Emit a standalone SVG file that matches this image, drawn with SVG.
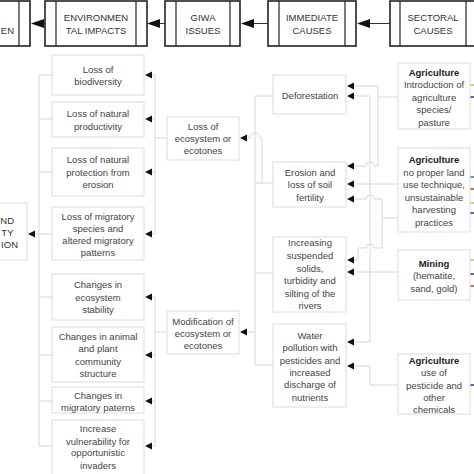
<svg xmlns="http://www.w3.org/2000/svg" width="474" height="474" viewBox="0 0 474 474">
<style>
.hb{fill:#fff;stroke:#222;stroke-width:1.6}
.hl{stroke:#222;stroke-width:1.2}
.b{fill:#fff;stroke:#dcdcdc;stroke-width:1}
.c{fill:none;stroke:#d6d6d6;stroke-width:1}
.hc{fill:none;stroke:#333;stroke-width:1.2}
.t{font-family:"Liberation Sans",Arial,sans-serif;font-size:9.5px;fill:#444;text-anchor:middle}
.h{font-family:"Liberation Sans",Arial,sans-serif;font-size:9.5px;fill:#333;text-anchor:middle}
.bd{font-weight:bold;fill:#222}
.a{fill:#111}
</style>
<defs>
<path id="sa" d="M0,0 L7,-3.5 L7,3.5 Z"/>
<path id="la" d="M0,0 L13,-4.5 L13,4.5 Z"/>
</defs>
<rect width="474" height="474" fill="#fff"/>

<g id="connectors">
  <!-- header -->
  <path class="hc" d="M44,23.5 H45 M160,23.5 H165 M254,23.5 H268 M370,23.5 H390"/>
  <use href="#la" x="31" y="23.5" class="a"/>
  <use href="#la" x="147" y="23.5" class="a"/>
  <use href="#la" x="241" y="23.5" class="a"/>
  <use href="#la" x="357" y="23.5" class="a"/>
  <!-- column 1 left bus -->
  <path class="c" d="M39,75 V446 M39,75 H52 M39,119 H52 M39,172 H52 M39,234 H52 M39,297 H52 M39,355 H52 M39,401 H52 M39,446 H52 M35,234 H39"/>
  <use href="#sa" x="28" y="234" class="a"/>
  <!-- column 1 right buses -->
  <path class="c" d="M155,75 V234 M152,75 H155 M152,119 H155 M152,172 H155 M152,234 H155 M155,138 H167 M155,297 V446 M152,297 H155 M152,355 H155 M152,401 H155 M152,446 H155 M155,332 H167"/>
  <use href="#sa" x="145" y="75" class="a"/>
  <use href="#sa" x="145" y="119" class="a"/>
  <use href="#sa" x="145" y="172" class="a"/>
  <use href="#sa" x="145" y="234" class="a"/>
  <use href="#sa" x="145" y="297" class="a"/>
  <use href="#sa" x="145" y="355" class="a"/>
  <use href="#sa" x="145" y="401" class="a"/>
  <use href="#sa" x="145" y="446" class="a"/>
  <!-- column 2 to column 3 -->
  <path class="c" d="M255,96 V365 M255,96 H273 M255,183 H273 M255,273 H273 M255,365 H273 M247,332 H255 M247,138 H250 A5,5 0 0 1 260,138 H262 V183"/>
  <use href="#sa" x="240" y="138" class="a"/>
  <use href="#sa" x="240" y="332" class="a"/>
  <!-- column 3 to column 4 -->
  <path class="c" d="M354,86 H378 V166 H374 A4,4 0 0 0 366,166 H354 M378,97 H398"/>
  <path class="c" d="M354,96 H370 V342 H354"/>
  <path class="c" d="M354,184 H398"/>
  <path class="c" d="M354,199 H366 A4,4 0 0 1 374,199 H382 V248 H374 A4,4 0 0 0 366,248 H358 V260 H354 M382,218 H398"/>
  <path class="c" d="M354,272 H398"/>
  <path class="c" d="M354,366 H370 V385 H398"/>
  <use href="#sa" x="347" y="86" class="a"/>
  <use href="#sa" x="347" y="96" class="a"/>
  <use href="#sa" x="347" y="166" class="a"/>
  <use href="#sa" x="347" y="184" class="a"/>
  <use href="#sa" x="347" y="199" class="a"/>
  <use href="#sa" x="347" y="260" class="a"/>
  <use href="#sa" x="347" y="272" class="a"/>
  <use href="#sa" x="347" y="342" class="a"/>
  <use href="#sa" x="347" y="366" class="a"/>
  <!-- coloured marks at right edge -->
  <g stroke-width="1.6">
    <path stroke="#e2b93b" d="M470,85 H474 M470,203 H474 M470,260 H474"/>
    <path stroke="#2b3a8a" d="M470,97 H474 M470,213 H474 M470,274 H474 M470,385 H474"/>
    <path stroke="#2f8f7f" d="M470,177 H474"/>
    <path stroke="#c83a3a" d="M470,189 H474 M470,286 H474"/>
  </g>
</g>

<!-- header nodes -->
<g id="h-concern">
  <rect class="hb" x="-60" y="1" width="90" height="45"/>
  <line class="hl" x1="19" y1="1" x2="19" y2="46"/>
  <text class="h" x="14" y="33.5" style="text-anchor:end">EN</text>
</g>
<g id="h-env">
  <rect class="hb" x="45" y="1" width="102" height="45"/>
  <line class="hl" x1="56" y1="1" x2="56" y2="46"/>
  <line class="hl" x1="136" y1="1" x2="136" y2="46"/>
  <text class="h" x="96" y="20.5">ENVIRONMEN</text>
  <text class="h" x="96" y="33.5">TAL IMPACTS</text>
</g>
<g id="h-giwa">
  <rect class="hb" x="165" y="1" width="75" height="45"/>
  <line class="hl" x1="176" y1="1" x2="176" y2="46"/>
  <line class="hl" x1="230" y1="1" x2="230" y2="46"/>
  <text class="h" x="203" y="20.5">GIWA</text>
  <text class="h" x="203" y="33.5">ISSUES</text>
</g>
<g id="h-immediate">
  <rect class="hb" x="268" y="1" width="88" height="45"/>
  <line class="hl" x1="279" y1="1" x2="279" y2="46"/>
  <line class="hl" x1="345" y1="1" x2="345" y2="46"/>
  <text class="h" x="312" y="20.5">IMMEDIATE</text>
  <text class="h" x="312" y="33.5">CAUSES</text>
</g>
<g id="h-sectoral">
  <rect class="hb" x="390" y="1" width="90" height="45"/>
  <line class="hl" x1="400" y1="1" x2="400" y2="46"/>
  <line class="hl" x1="466" y1="1" x2="466" y2="46"/>
  <text class="h" x="433" y="20.5">SECTORAL</text>
  <text class="h" x="433" y="33.5">CAUSES</text>
</g>

<!-- concern node (left, cut off) -->
<g id="n-concern">
  <rect class="b" x="-60" y="203" width="87" height="57"/>
  <text class="h" x="14" y="223.5" style="text-anchor:end">ND</text>
  <text class="h" x="13.5" y="235.5" style="text-anchor:end">TY</text>
  <text class="h" x="18" y="248" style="text-anchor:end">ION</text>
</g>

<!-- column 1: environmental impacts -->
<g id="i-biodiversity">
  <rect class="b" x="52" y="55" width="92" height="40"/>
  <text class="t" x="98" y="72.5">Loss of</text>
  <text class="t" x="98" y="84.5">biodiversity</text>
</g>
<g id="i-productivity">
  <rect class="b" x="52" y="102" width="92" height="35"/>
  <text class="t" x="98" y="116.5">Loss of natural</text>
  <text class="t" x="98" y="129.5">productivity</text>
</g>
<g id="i-protection">
  <rect class="b" x="52" y="148" width="92" height="48"/>
  <text class="t" x="98" y="162.5">Loss of natural</text>
  <text class="t" x="98" y="175.5">protection from</text>
  <text class="t" x="98" y="187.5">erosion</text>
</g>
<g id="i-migratory">
  <rect class="b" x="52" y="207" width="92" height="53"/>
  <text class="t" x="98" y="219.5">Loss of migratory</text>
  <text class="t" x="98" y="231.5">species and</text>
  <text class="t" x="98" y="243.5">altered migratory</text>
  <text class="t" x="98" y="255.5">patterns</text>
</g>
<g id="i-stability">
  <rect class="b" x="52" y="274" width="92" height="46"/>
  <text class="t" x="98" y="287.5">Changes in</text>
  <text class="t" x="98" y="300.5">ecosystem</text>
  <text class="t" x="98" y="312.5">stability</text>
</g>
<g id="i-community">
  <rect class="b" x="52" y="327" width="92" height="55"/>
  <text class="t" x="98" y="339.5">Changes in animal</text>
  <text class="t" x="98" y="351.5">and plant</text>
  <text class="t" x="98" y="364.5">community</text>
  <text class="t" x="98" y="376.5">structure</text>
</g>
<g id="i-paterns">
  <rect class="b" x="52" y="387" width="92" height="26"/>
  <text class="t" x="98" y="398.5">Changes in</text>
  <text class="t" x="98" y="410.5">migratory paterns</text>
</g>
<g id="i-invaders">
  <rect class="b" x="52" y="420" width="92" height="60"/>
  <text class="t" x="98" y="431.5">Increase</text>
  <text class="t" x="98" y="444.5">vulnerability for</text>
  <text class="t" x="98" y="455.5">opportunistic</text>
  <text class="t" x="98" y="468.5">invaders</text>
</g>

<!-- column 2: GIWA issues -->
<g id="g-loss">
  <rect class="b" x="167" y="117" width="72" height="43"/>
  <text class="t" x="203" y="129.5">Loss of</text>
  <text class="t" x="203" y="141.5">ecosystem or</text>
  <text class="t" x="203" y="153.5">ecotones</text>
</g>
<g id="g-modification">
  <rect class="b" x="167" y="311" width="72" height="43"/>
  <text class="t" x="203" y="324.5">Modification of</text>
  <text class="t" x="203" y="336.5">ecosystem or</text>
  <text class="t" x="203" y="348.5">ecotones</text>
</g>

<!-- column 3: immediate causes -->
<g id="c-deforestation">
  <rect class="b" x="273" y="75" width="73" height="39"/>
  <text class="t" x="310" y="98.5">Deforestation</text>
</g>
<g id="c-erosion">
  <rect class="b" x="273" y="162" width="73" height="45"/>
  <text class="t" x="310" y="175.5">Erosion and</text>
  <text class="t" x="310" y="187.5">loss of soil</text>
  <text class="t" x="310" y="200.5">fertility</text>
</g>
<g id="c-suspended">
  <rect class="b" x="273" y="237" width="73" height="75"/>
  <text class="t" x="310" y="245.5">Increasing</text>
  <text class="t" x="310" y="258.5">suspended</text>
  <text class="t" x="310" y="271.5">solids,</text>
  <text class="t" x="310" y="283.5">turbidity and</text>
  <text class="t" x="310" y="296.5">silting of the</text>
  <text class="t" x="310" y="308.5">rivers</text>
</g>
<g id="c-pollution">
  <rect class="b" x="273" y="324" width="73" height="83"/>
  <text class="t" x="310" y="338.5">Water</text>
  <text class="t" x="310" y="350.5">pollution with</text>
  <text class="t" x="310" y="363.5">pesticides and</text>
  <text class="t" x="310" y="375.5">increased</text>
  <text class="t" x="310" y="387.5">discharge of</text>
  <text class="t" x="310" y="400.5">nutrients</text>
</g>

<!-- column 4: sectoral causes -->
<g id="s-agri-species">
  <rect class="b" x="398" y="63" width="72" height="66"/>
  <text class="t bd" x="434" y="75.5">Agriculture</text>
  <text class="t" x="434" y="88">Introduction of</text>
  <text class="t" x="434" y="100.5">agriculture</text>
  <text class="t" x="434" y="113">species/</text>
  <text class="t" x="434" y="125.5">pasture</text>
</g>
<g id="s-agri-land">
  <rect class="b" x="398" y="148" width="72" height="84"/>
  <text class="t bd" x="434" y="163">Agriculture</text>
  <text class="t" x="434" y="175.5">no proper land</text>
  <text class="t" x="434" y="188">use technique,</text>
  <text class="t" x="434" y="200.5">unsustainable</text>
  <text class="t" x="434" y="213">harvesting</text>
  <text class="t" x="434" y="225.5">practices</text>
</g>
<g id="s-mining">
  <rect class="b" x="398" y="250" width="72" height="50"/>
  <text class="t bd" x="434" y="266.5">Mining</text>
  <text class="t" x="434" y="278.5">(hematite,</text>
  <text class="t" x="434" y="291.5">sand, gold)</text>
</g>
<g id="s-agri-pesticide">
  <rect class="b" x="398" y="354" width="72" height="60"/>
  <text class="t bd" x="434" y="363.5">Agriculture</text>
  <text class="t" x="434" y="375.5">use of</text>
  <text class="t" x="434" y="388.5">pesticide and</text>
  <text class="t" x="434" y="400.5">other</text>
  <text class="t" x="434" y="413">chemicals</text>
</g>
</svg>
